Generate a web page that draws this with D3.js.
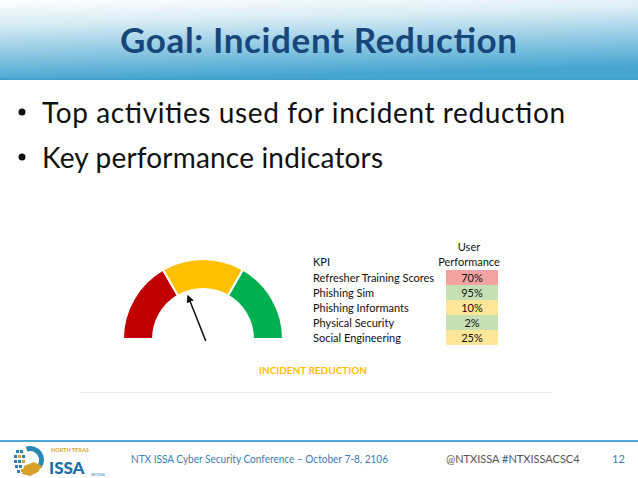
<!DOCTYPE html>
<html>
<head>
<meta charset="utf-8">
<script src="https://cdn.jsdelivr.net/npm/d3@7"></script>
<style>
  body { margin: 0; background: #fff; }
  svg { display: block; font-family: Lato, "Open Sans", sans-serif; }
</style>
</head>
<body>
<svg id="slide" width="638" height="478"></svg>
<script>
// gauge bands (equal thirds) and needle reading
let bands = ["low", "mid", "high"];
let bandColors = ["#c00000", "#ffc000", "#00b050"];
let bandShare = [1, 1, 1];
let needleValue = 0.38; // fraction of the dial

// KPI table
let kpis = ["Refresher Training Scores", "Phishing Sim", "Phishing Informants", "Physical Security", "Social Engineering"];
let performance = ["70%", "95%", "10%", "2%", "25%"];
let cellColors = ["#f4a3a3", "#c6e0b4", "#ffe699", "#c6e0b4", "#ffe699"];

let bullets = ["Top activities used for incident reduction", "Key performance indicators"];
let bulletWidths = [523, 341];

let svg = d3.select("#slide");

// header band
let defs = svg.append("defs");
let grad = defs.append("linearGradient").attr("id", "hdr")
    .attr("x1", "0").attr("y1", "0").attr("x2", "0.2").attr("y2", "1");
grad.append("stop").attr("offset", "0").attr("stop-color", "#ffffff");
grad.append("stop").attr("offset", "0.3").attr("stop-color", "#d8ecf5");
grad.append("stop").attr("offset", "1").attr("stop-color", "#47a6d1");

svg.append("rect").attr("x", 0).attr("y", 0).attr("width", 638).attr("height", 79).attr("fill", "url(#hdr)");
svg.append("rect").attr("x", 0).attr("y", 78).attr("width", 638).attr("height", 2).attr("fill", "#3fa1cc");

svg.append("text")
    .attr("x", 120).attr("y", 53)
    .attr("textLength", 397).attr("lengthAdjust", "spacing")
    .attr("font-size", 35).attr("font-weight", "bold")
    .attr("fill", "#17477a")
    .text("Goal: Incident Reduction");

// bullets
let bl = svg.append("g");
bullets.forEach(function(b, i) {
    let y = 123 + i * 45;
    bl.append("circle").attr("cx", 22).attr("cy", y - 11).attr("r", 3.5).attr("fill", "#111");
    bl.append("text").attr("x", 42).attr("y", y)
        .attr("textLength", bulletWidths[i]).attr("lengthAdjust", "spacing")
        .attr("font-size", 28).attr("fill", "#111").text(b);
});

// gauge
let cx = 203, cy = 339;
let pie = d3.pie().sort(null).value(d => d).startAngle(-Math.PI / 2).endAngle(Math.PI / 2);
let arc = d3.arc().innerRadius(50).outerRadius(80);
let gauge = svg.append("g").attr("transform", "translate(" + cx + "," + cy + ")");

gauge.selectAll("path.band")
    .data(pie(bandShare))
    .enter()
    .append("path")
    .attr("class", "band")
    .attr("d", arc)
    .attr("fill", (d, i) => bandColors[i])
    .attr("stroke", "#fff")
    .attr("stroke-width", 2);

let angle = d3.scaleLinear().domain([0, 1]).range([-90, 90]);
defs.append("marker").attr("id", "arrow")
    .attr("viewBox", "0 0 10 10").attr("refX", 8).attr("refY", 5)
    .attr("markerWidth", 5).attr("markerHeight", 5).attr("orient", "auto")
    .append("path").attr("d", "M0,0 L10,5 L0,10 z").attr("fill", "#111");

gauge.append("line")
    .attr("x1", 0).attr("y1", 2).attr("x2", 0).attr("y2", -46)
    .attr("transform", "translate(2,0) rotate(" + angle(needleValue) + ")")
    .attr("stroke", "#111").attr("stroke-width", 1.5)
    .attr("marker-end", "url(#arrow)");

svg.append("text")
    .attr("x", 313).attr("y", 374)
    .attr("text-anchor", "middle")
    .attr("font-size", 10).attr("font-weight", "bold")
    .attr("fill", "#ffc000")
    .text("INCIDENT REDUCTION");

// table
let row = d3.scaleBand().domain(kpis).range([270, 345]);
let tbl = svg.append("g").attr("font-size", 11).attr("fill", "#111");
tbl.append("text").attr("x", 469).attr("y", 251).attr("text-anchor", "middle").text("User");
tbl.append("text").attr("x", 469).attr("y", 266).attr("text-anchor", "middle").text("Performance");
tbl.append("text").attr("x", 313).attr("y", 266).text("KPI");

tbl.selectAll("rect.cell")
    .data(kpis)
    .enter()
    .append("rect")
    .attr("class", "cell")
    .attr("x", 446).attr("width", 52)
    .attr("y", d => row(d)).attr("height", row.bandwidth())
    .attr("fill", (d, i) => cellColors[i]);

tbl.selectAll("text.kpi")
    .data(kpis)
    .enter()
    .append("text")
    .attr("class", "kpi")
    .attr("x", 313).attr("y", d => row(d) + 11.5)
    .text(d => d);

tbl.selectAll("text.val")
    .data(kpis)
    .enter()
    .append("text")
    .attr("class", "val")
    .attr("x", 472).attr("y", d => row(d) + 11.5)
    .attr("text-anchor", "middle")
    .text((d, i) => performance[i]);

svg.append("line").attr("x1", 80).attr("x2", 552).attr("y1", 392.5).attr("y2", 392.5)
    .attr("stroke", "#eeeeee").attr("stroke-width", 1);

// footer
svg.append("rect").attr("x", 0).attr("y", 440).attr("width", 638).attr("height", 2).attr("fill", "#4aa8d2");
let logo = svg.append("g");
logo.append("path")
    .attr("d", d3.arc().innerRadius(9).outerRadius(14).startAngle(-0.3).endAngle(2.2)())
    .attr("transform", "translate(30,460)").attr("fill", "#2a86b8");
logo.append("path")
    .attr("d", "M24,466 L34,462 L42,466 L38,472 L30,476 L22,474 z").attr("fill", "#d9a12a");
let dots = [[16,450],[20,450],[14,455],[18,455],[22,455],[14,460],[18,460],[22,460],[15,465],[19,465],[17,470],[21,469]];
logo.selectAll("rect")
    .data(dots)
    .enter()
    .append("rect")
    .attr("x", d => d[0]).attr("y", d => d[1]).attr("width", 3).attr("height", 3)
    .attr("fill", (d, i) => i % 4 === 3 ? "#d9a12a" : "#2c7fb0");
logo.append("text").attr("x", 51).attr("y", 452).attr("font-size", 5.5).attr("font-weight", "bold").attr("fill", "#d9a12a").text("NORTH TEXAS");
logo.append("text").attr("x", 49).attr("y", 474).attr("font-size", 17).attr("font-weight", "900").attr("fill", "#1d6fa5").text("ISSA");
logo.append("text").attr("x", 91).attr("y", 476).attr("font-size", 3).attr("fill", "#1d6fa5").text("#NTXISSA");

let ft = svg.append("g").attr("font-size", 11).attr("fill", "#3a7db8");
ft.append("text").attr("x", 131).attr("y", 463)
    .attr("textLength", 257).attr("lengthAdjust", "spacingAndGlyphs")
    .text("NTX ISSA Cyber Security Conference \u2013 October 7-8, 2106");
ft.append("text").attr("x", 446).attr("y", 463).attr("fill", "#555").text("@NTXISSA  #NTXISSACSC4");
ft.append("text").attr("x", 612).attr("y", 463).text("12");
</script>
</body>
</html>
